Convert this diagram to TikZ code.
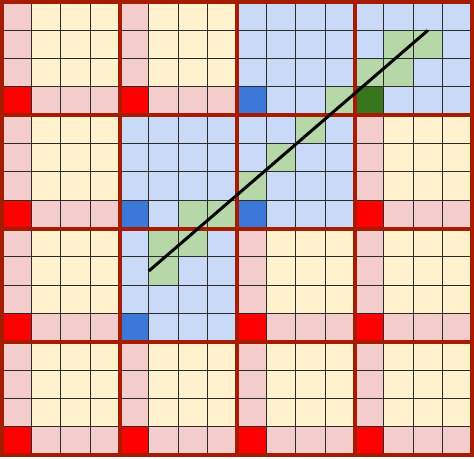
\documentclass[tikz,border=0pt]{standalone}
\definecolor{cream}{HTML}{FFF2CC}
\definecolor{pinkc}{HTML}{F4CCCC}
\definecolor{redc}{HTML}{FF0000}
\definecolor{lblue}{HTML}{C9DAF8}
\definecolor{dblue}{HTML}{3C78D8}
\definecolor{lgreen}{HTML}{B6D7A8}
\definecolor{dgreen}{HTML}{38761D}
\definecolor{borderc}{HTML}{A61C00}
\definecolor{gridc}{HTML}{2B2B2B}
\tikzset{
  cellline/.style={draw=gridc, line width=1.1pt},
  blockline/.style={draw=borderc, line width=4pt, line cap=rect},
  path line/.style={draw=black, line width=3pt}
}
\begin{document}
\begin{tikzpicture}[x=29.375pt,y=-28.3125pt]
\useasboundingbox (-0.0681,-0.0706) rectangle (16.0681,16.1060);
\fill[white] (-0.0681,-0.0706) rectangle (16.0681,16.1060);
% yellow blocks
\fill[cream] (0,0) rectangle (16,16);
\foreach \bx in {0,...,3} {
  \foreach \by in {0,...,3} {
    \fill[pinkc] (4*\bx,4*\by) rectangle ++(1,4);
    \fill[pinkc] (4*\bx,4*\by+3) rectangle ++(4,1);
    \fill[redc] (4*\bx,4*\by+3) rectangle ++(1,1);
  }
}
% blue blocks
\foreach \bx/\by in {2/0,3/0,1/1,2/1,1/2} {
  \fill[lblue] (4*\bx,4*\by) rectangle ++(4,4);
  \fill[dblue] (4*\bx,4*\by+3) rectangle ++(1,1);
}
% traversed cells
\foreach \cx/\cy in {13/1,14/1,12/2,13/2,11/3,10/4,9/5,8/6,6/7,7/7,5/8,6/8,5/9} {
  \fill[lgreen] (\cx,\cy) rectangle ++(1,1);
}
\fill[dgreen] (12,3) rectangle ++(1,1);
% cell grid
\foreach \i in {1,...,15} {
  \draw[cellline] (\i,0) -- (\i,16);
  \draw[cellline] (0,\i) -- (16,\i);
}
% block grid
\foreach \i in {0,4,8,12,16} {
  \draw[blockline] (\i,0) -- (\i,16);
  \draw[blockline] (0,\i) -- (16,\i);
}
% ray
\coordinate (rs) at (5,9.5);
\coordinate (re) at (14.5,1.0);
\draw[path line] (rs) -- (re);
\end{tikzpicture}
\end{document}
